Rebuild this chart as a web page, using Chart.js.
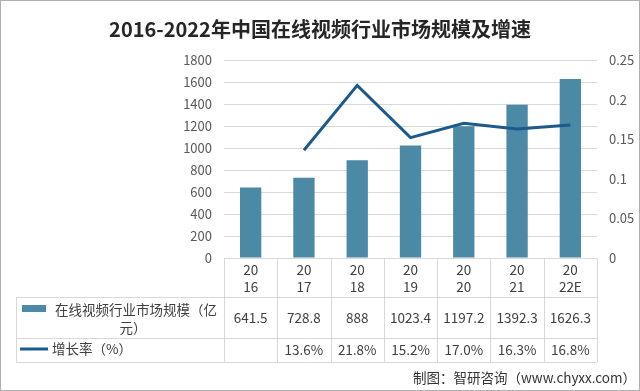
<!DOCTYPE html>
<html>
<head>
<meta charset="utf-8">
<script src="https://cdn.jsdelivr.net/npm/chart.js@4.4.1/dist/chart.umd.min.js"></script>
<style>
  html, body { margin: 0; padding: 0; background: #ffffff; }
  #wrap { width: 640px; height: 391px; position: relative; }
  canvas { display: block; }
</style>
</head>
<body>
<div id="wrap"><canvas id="c" width="640" height="391"></canvas></div>
<script>
const titleText = '2016-2022年中国在线视频行业市场规模及增速';
const categories = ['2016', '2017', '2018', '2019', '2020', '2021', '2022E'];
const categoryLabels = [['20', '16'], ['20', '17'], ['20', '18'], ['20', '19'], ['20', '20'], ['20', '21'], ['20', '22E']];
const marketSize = [641.5, 728.8, 888, 1023.4, 1197.2, 1392.3, 1626.3];
const marketSizeLabels = ['641.5', '728.8', '888', '1023.4', '1197.2', '1392.3', '1626.3'];
const growthRate = [null, 0.136, 0.218, 0.152, 0.170, 0.163, 0.168];
const growthLabels = ['', '13.6%', '21.8%', '15.2%', '17.0%', '16.3%', '16.8%'];
const seriesNames = ['在线视频行业市场规模（亿', '元）', '增长率（%）'];
const sourceText = '制图：智研咨询（www.chyxx.com）';

const BAR_COLOR = '#4b89a5';
const LINE_COLOR = '#1c5a8b';
const GRID = '#d9d9d9';
const TEXT = '#404040';
const TICK = '#595959';
const FONT = "'Noto Sans CJK SC', 'Noto Sans', sans-serif";

Chart.defaults.font.family = FONT;

const tablePlugin = {
  id: 'dataTable',
  afterDraw(chart) {
    const ctx = chart.ctx;
    const x = chart.scales.x;
    const area = chart.chartArea;
    const n = categories.length;
    const colW = x.getPixelForValue(1) - x.getPixelForValue(0);
    const top = area.bottom;
    const r1 = top + 39, r2 = top + 80, r3 = top + 104;
    const tableLeft = 16;
    ctx.save();
    ctx.strokeStyle = GRID;
    ctx.lineWidth = 1;
    ctx.beginPath();
    [r1, r2, r3].forEach(y => {
      ctx.moveTo(tableLeft, Math.round(y) + 0.5);
      ctx.lineTo(area.right, Math.round(y) + 0.5);
    });
    for (let i = 0; i <= n; i++) {
      const xx = Math.round(x.getPixelForValue(i) - colW / 2) + 0.5;
      ctx.moveTo(xx, top);
      ctx.lineTo(xx, r3);
    }
    ctx.moveTo(tableLeft + 0.5, r1);
    ctx.lineTo(tableLeft + 0.5, r3);
    ctx.stroke();

    ctx.fillStyle = TEXT;
    ctx.font = '13.5px ' + FONT;
    ctx.textAlign = 'center';
    ctx.textBaseline = 'middle';
    for (let i = 0; i < n; i++) {
      const cx = x.getPixelForValue(i);
      ctx.fillText(marketSizeLabels[i], cx, top + 60);
      ctx.fillText(growthLabels[i], cx, top + 92);
    }
    // legend cells
    ctx.fillStyle = BAR_COLOR;
    ctx.fillRect(22, top + 47, 24, 7);
    ctx.fillStyle = TEXT;
    ctx.fillText(seriesNames[0], 136, top + 52);
    ctx.fillText(seriesNames[1], 133, top + 70);
    ctx.strokeStyle = LINE_COLOR;
    ctx.lineWidth = 3;
    ctx.beginPath();
    ctx.moveTo(20, top + 91);
    ctx.lineTo(48, top + 91);
    ctx.stroke();
    ctx.textAlign = 'left';
    ctx.fillText(seriesNames[2], 52, top + 91);

    // source
    ctx.font = '13.5px ' + FONT;
    ctx.textAlign = 'right';
    ctx.fillStyle = '#333333';
    ctx.fillText(sourceText, 636, 378);

    // frame
    ctx.strokeStyle = '#b0b0b0';
    ctx.lineWidth = 1;
    ctx.strokeRect(0.5, 0.5, chart.width - 1, chart.height - 1);
    ctx.restore();
  }
};

new Chart(document.getElementById('c'), {
  data: {
    labels: categoryLabels,
    datasets: [
      {
        type: 'line',
        label: seriesNames[2],
        data: growthRate,
        yAxisID: 'y1',
        borderColor: LINE_COLOR,
        backgroundColor: LINE_COLOR,
        borderWidth: 3,
        pointRadius: 0,
        tension: 0,
        order: 0
      },
      {
        type: 'bar',
        label: seriesNames[0] + seriesNames[1],
        data: marketSize,
        yAxisID: 'y',
        backgroundColor: BAR_COLOR,
        barPercentage: 0.4,
        categoryPercentage: 1,
        order: 1
      }
    ]
  },
  options: {
    responsive: false,
    animation: false,
    events: [],
    layout: { padding: 0 },
    plugins: {
      legend: { display: false },
      tooltip: { enabled: false },
      title: {
        display: true,
        text: titleText,
        color: '#262626',
        font: { size: 20, weight: 'bold', family: FONT, lineHeight: 1.2 },
        padding: { top: 17, bottom: 19 }
      }
    },
    scales: {
      x: {
        position: 'bottom',
        offset: true,
        grid: { display: false, drawTicks: false },
        border: { display: false },
        ticks: {
          color: TEXT,
          font: { size: 13.5, lineHeight: 1.3 },
          padding: 3,
          maxRotation: 0,
          autoSkip: false
        },
        afterFit(s) { s.height = 133; }
      },
      y: {
        position: 'left',
        min: 0,
        max: 1800,
        grid: { color: GRID, drawTicks: false },
        border: { display: false },
        ticks: {
          stepSize: 200,
          color: TICK,
          font: { size: 13 },
          padding: 12,
          callback: v => String(Math.round(v))
        },
        afterFit(s) { s.width = 224; }
      },
      y1: {
        position: 'right',
        min: 0,
        max: 0.25,
        grid: { display: false, drawTicks: false },
        border: { display: false },
        ticks: {
          stepSize: 0.05,
          color: TICK,
          font: { size: 13 },
          padding: 12,
          callback: v => String(+(+v).toFixed(2))
        },
        afterFit(s) { s.width = 43; }
      }
    }
  },
  plugins: [tablePlugin]
});
</script>
</body>
</html>
